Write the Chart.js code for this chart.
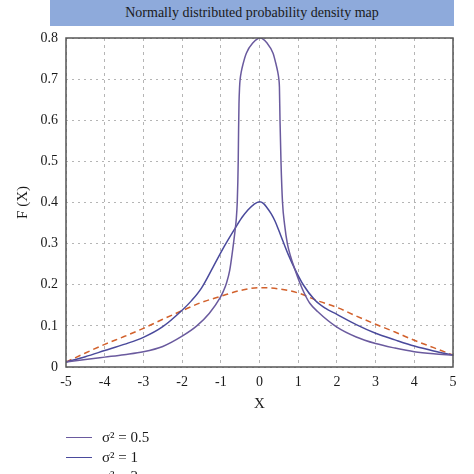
<!DOCTYPE html>
<html>
<head>
<meta charset="utf-8">
<script src="https://cdn.jsdelivr.net/npm/chart.js@4"></script>
<style>
  body { margin: 0; background: #fff; }
  #wrap { position: relative; width: 474px; height: 474px; overflow: hidden; background: #fff; }
  #title {
    position: absolute; left: 50px; top: 0; width: 404px; height: 26px;
    background: #8eaadb; color: #1a1a1a; text-align: center;
    font: 14px "Liberation Serif", serif; line-height: 26px;
  }
  #chart { position: absolute; left: 0; top: 0; }
  #legend { position: absolute; left: 66px; top: 428px; font: 15px "Liberation Serif", serif; color: #1a1a1a; }
  .item { height: 19.5px; display: flex; align-items: center; }
  .swatch { width: 26px; height: 0; margin-right: 10px; }
</style>
</head>
<body>
<div id="wrap">
  <canvas id="chart" width="474" height="474"></canvas>
  <div id="title">Normally distributed probability density map</div>
  <div id="legend"></div>
</div>
<script>
// Data
const LABELS = ["σ² = 0.5", "σ² = 1", "σ² = 2"];
const COLORS = ["#6a5a9e", "#4a4a9c", "#d2612c"];

const X_NARROW = [-5, -4.5, -4, -3.5, -3, -2.5, -2, -1.62, -1.3, -1.02,
  -0.93, -0.85, -0.77, -0.7, -0.64, -0.6, -0.575, -0.56, -0.55, -0.54,
  -0.53, -0.515, -0.5, -0.47, -0.43, -0.34, -0.18, 0.02, 0.2, 0.35,
  0.43, 0.47, 0.5, 0.515, 0.53, 0.555, 0.595, 0.65, 0.72, 0.8,
  0.915, 1.04, 1.17, 1.3, 1.5, 2, 2.5, 3, 3.5, 4,
  4.5, 5];
const Y_NARROW = [0.012, 0.018, 0.024, 0.03, 0.037, 0.05, 0.075, 0.1, 0.13, 0.168,
  0.185, 0.205, 0.235, 0.28, 0.325, 0.36, 0.4, 0.45, 0.5, 0.58,
  0.64, 0.68, 0.7, 0.718, 0.735, 0.763, 0.787, 0.8, 0.787, 0.763,
  0.735, 0.718, 0.7, 0.68, 0.6, 0.5, 0.4, 0.345, 0.3, 0.27,
  0.237, 0.205, 0.177, 0.155, 0.135, 0.097, 0.073, 0.057, 0.046, 0.037,
  0.032, 0.029];

const X_MEDIUM = [-5, -4.5, -4, -3.5, -3, -2.5, -2, -1.75, -1.5, -1.2,
  -0.9, -0.6, -0.45, -0.3, -0.15, 0, 0.1, 0.19, 0.3, 0.4,
  0.5, 0.61, 0.75, 0.915, 1.13, 1.43, 1.7, 2, 2.5, 3,
  3.5, 4, 4.5, 5];
const Y_MEDIUM = [0.012, 0.025, 0.04, 0.055, 0.072, 0.098, 0.138, 0.162, 0.192, 0.243,
  0.295, 0.342, 0.364, 0.382, 0.395, 0.402, 0.398, 0.388, 0.373, 0.355,
  0.332, 0.305, 0.272, 0.238, 0.2, 0.163, 0.143, 0.128, 0.103, 0.082,
  0.066, 0.051, 0.039, 0.029];

const X_WIDE = [-5, -4.5, -4, -3.5, -3, -2.5, -2, -1.5, -1, -0.5, 0, 0.5, 1, 1.5, 2, 2.5, 3, 3.5, 4, 4.5, 5];
const Y_WIDE = [0.012, 0.034, 0.055, 0.074, 0.094, 0.116, 0.137, 0.157, 0.172, 0.186, 0.193, 0.19, 0.18, 0.161, 0.145, 0.124, 0.104, 0.085, 0.065, 0.047, 0.029];

const X_TICKS = [-5, -4, -3, -2, -1, 0, 1, 2, 3, 4, 5];
const Y_TICKS = [0, 0.1, 0.2, 0.3, 0.4, 0.5, 0.6, 0.7, 0.8];

const SERIES = [[X_NARROW, Y_NARROW], [X_MEDIUM, Y_MEDIUM], [X_WIDE, Y_WIDE]];
const DASHES = [[], [], [6, 4]];

const FONT = { family: '"Liberation Serif", serif', size: 14 };

// Draws the box round the plot area
const framePlugin = {
  id: "frame",
  afterDraw(chart) {
    const { ctx, chartArea: a } = chart;
    ctx.save();
    ctx.strokeStyle = "#555";
    ctx.lineWidth = 1.5;
    ctx.strokeRect(a.left, a.top, a.right - a.left, a.bottom - a.top);
    ctx.restore();
  },
};

const datasets = SERIES.map(([xs, ys], i) => ({
  label: LABELS[i],
  data: xs.map((x, j) => ({ x: x, y: ys[j] })),
  showLine: true,
  borderColor: COLORS[i],
  borderWidth: 1.5,
  borderDash: DASHES[i],
  pointRadius: 0,
  cubicInterpolationMode: "monotone",
}));

new Chart(document.getElementById("chart"), {
  type: "scatter",
  data: { datasets: datasets },
  options: {
    responsive: false,
    animation: false,
    layout: { padding: { left: 10, top: 38, right: 21, bottom: 57 } },
    plugins: { legend: { display: false }, tooltip: { enabled: false } },
    scales: {
      x: {
        type: "linear",
        min: -5,
        max: 5,
        afterFit: (s) => { s.height = 50; },
        afterBuildTicks: (s) => { s.ticks = X_TICKS.map((v) => ({ value: v })); },
        ticks: { font: FONT, color: "#1a1a1a", padding: 7, maxRotation: 0 },
        grid: { color: "#b5b5b5", lineWidth: 1, drawTicks: false },
        border: { display: false, dash: [3, 4] },
        title: { display: true, text: "X", font: { family: FONT.family, size: 15 }, color: "#1a1a1a" },
      },
      y: {
        type: "linear",
        min: 0,
        max: 0.8,
        afterFit: (s) => { s.width = 56; },
        afterBuildTicks: (s) => { s.ticks = Y_TICKS.map((v) => ({ value: v })); },
        ticks: { font: FONT, color: "#1a1a1a", padding: 8 },
        grid: { color: "#b5b5b5", lineWidth: 1, drawTicks: false },
        border: { display: false, dash: [2, 4] },
        title: { display: true, text: "F (X)", font: { family: FONT.family, size: 15 }, color: "#1a1a1a" },
      },
    },
  },
  plugins: [framePlugin],
});

// Legend as a vertical list under the plot
const legendEl = document.getElementById("legend");
LABELS.forEach((label, i) => {
  const row = document.createElement("div");
  row.className = "item";
  const sw = document.createElement("span");
  sw.className = "swatch";
  sw.style.borderTop = `1.5px ${DASHES[i].length ? "dashed" : "solid"} ${COLORS[i]}`;
  const txt = document.createElement("span");
  txt.textContent = label;
  row.appendChild(sw);
  row.appendChild(txt);
  legendEl.appendChild(row);
});
</script>
</body>
</html>
